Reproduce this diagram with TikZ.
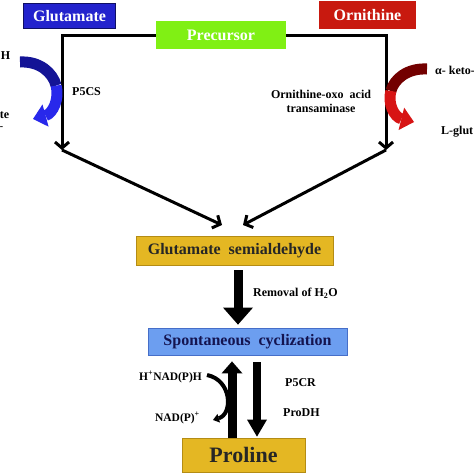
\documentclass[tikz,border=0pt]{standalone}
\usepackage{fontspec}
\setmainfont{Liberation Serif}
\usetikzlibrary{arrows.meta,calc}
\definecolor{glublue}{RGB}{35,35,205}
\definecolor{glunavy}{RGB}{15,15,100}
\definecolor{ornred}{RGB}{200,25,15}
\definecolor{pregreen}{RGB}{128,240,20}
\definecolor{goldfill}{RGB}{228,183,35}
\definecolor{goldedge}{RGB}{180,140,20}
\definecolor{cycblue}{RGB}{108,158,240}
\definecolor{cycedge}{RGB}{70,110,200}
\definecolor{navytext}{RGB}{20,20,80}
\definecolor{ribbonblueA}{RGB}{20,20,150}
\definecolor{ribbonblueB}{RGB}{40,40,235}
\definecolor{ribbonredA}{RGB}{115,0,0}
\definecolor{ribbonredB}{RGB}{215,20,20}
\begin{document}
\begin{tikzpicture}[x=1pt,y=-1pt,
  box/.style={rectangle,inner sep=0pt,font=\fontsize{16}{18}\selectfont\bfseries},
  lbl/.style={inner sep=0pt,font=\fontsize{12}{14}\selectfont\bfseries,align=center},
  conn/.style={line width=3pt,-{Straight Barb[length=6pt,width=14pt]}},
  bigarrow/.style={line width=9pt,-{Triangle[width=30pt,length=17pt,line width=0pt]}},
  uparrow/.style={line width=9pt,-{Triangle[width=21pt,length=12pt,line width=0pt]}},
  downarrow/.style={line width=8pt,-{Triangle[width=20pt,length=17pt,line width=0pt]}},
  ribbon/.style={line width=11pt}
]
\useasboundingbox (0,0) rectangle (474,474);
\clip (0,0) rectangle (474,474);
\fill[white] (0,0) rectangle (474,474);

% boxes
\node[box,fill=glublue,draw=glunavy,line width=1.5pt,text=white,minimum width=92pt,minimum height=25pt] (glu) at (69.5,16) {Glutamate};
\node[box,fill=pregreen,text=white,minimum width=130pt,minimum height=28pt] (pre) at (221,35) {Precursor};
\node[box,fill=ornred,text=white,minimum width=97pt,minimum height=28pt] (orn) at (367.5,15) {Ornithine};
\node[box,fill=goldfill,draw=goldedge,line width=0.8pt,text=black!85,minimum width=197pt,minimum height=29pt] (sa) at (234.5,250.5) {Glutamate\ \ semialdehyde};
\node[box,fill=cycblue,draw=cycedge,line width=0.8pt,text=navytext,minimum width=199pt,minimum height=27pt] (cyc) at (247.5,341.5) {Spontaneous\ \ cyclization};
\node[box,fill=goldfill,draw=goldedge,line width=0.8pt,text=black!85,minimum width=123pt,minimum height=34pt,font=\fontsize{22}{24}\selectfont\bfseries] (pro) at (243.5,455) {Proline};

% junction coordinates
\coordinate (jl) at (62,150);
\coordinate (jr) at (386,150);
\coordinate (ta) at (222,225);
\coordinate (tb) at (243,225);

% connectors
\draw[conn] (pre.west) -| (jl);
\draw[conn] (pre.east) -| (jr);
\draw[conn] (jl) -- (ta);
\draw[conn] (jr) -- (tb);

% block arrows
\draw[bigarrow] ([xshift=3.5pt,yshift=-5pt]sa.south) -- ([xshift=-9.5pt,yshift=3pt]cyc.north);
\draw[uparrow] ([xshift=-11.5pt]pro.north) -- ([xshift=-15.5pt,yshift=-6pt]cyc.south);
\draw[downarrow] ([xshift=9.5pt,yshift=-7pt]cyc.south) -- ([xshift=13.5pt,yshift=1pt]pro.north);

% ribbons
\draw[ribbon,ribbonblueA] (20,62) .. controls (39.5,61) and (52.75,72.5) .. (56.125,85.625);
\draw[ribbon,ribbonblueB,-{Triangle[width=23pt,length=13pt,line width=0pt]}] (56.125,85.625) .. controls (59.5,98.75) and (53,113.5) .. (33,119);
\draw[ribbon,ribbonredA] (427,69) .. controls (407.5,68) and (394.25,78.75) .. (390.875,91);
\draw[ribbon,ribbonredB,-{Triangle[width=23pt,length=13pt,line width=0pt]}] (390.875,91) .. controls (387.5,103.25) and (394,117) .. (414,122);

% small curved arrow
\draw[line width=4pt,-{Triangle[width=9pt,length=6pt,line width=0pt]}] (207,375) .. controls (232,380) and (233,414) .. (213,420);

% labels
\node[lbl,anchor=west] (p5cs) at (72,92) {P5CS};
\node[lbl,anchor=center,font=\fontsize{12}{13.5}\selectfont\bfseries] (oat) at (321,101.5) {Ornithine-oxo\ \ acid\\transaminase};
\node[lbl,anchor=west] (rem) at (253,293) {Removal of H\textsubscript{2}O};
\node[lbl,anchor=west] (p5cr) at (285,383) {P5CR};
\node[lbl,anchor=west] (prodh) at (283,413) {ProDH};
\node[lbl,anchor=east,font=\fontsize{11.5}{13}\selectfont\bfseries] (nadph) at (202,377) {H\textsuperscript{+}NAD(P)H};
\node[lbl,anchor=east,font=\fontsize{11.5}{13}\selectfont\bfseries] (nadp) at (200,418) {NAD(P)\textsuperscript{+}};
\node[lbl,anchor=west] (akg) at (435,70) {α- keto-};
\node[lbl,anchor=west] (lglu) at (441,132) {L-glut};
\node[lbl,anchor=east] (lh) at (10.5,56) {H};
\node[lbl,anchor=east] (lte) at (9.5,115) {te};
\node[lbl,anchor=east,font=\fontsize{10}{12}\selectfont\bfseries] (ldash) at (3.5,128) {-};
\end{tikzpicture}
\end{document}
